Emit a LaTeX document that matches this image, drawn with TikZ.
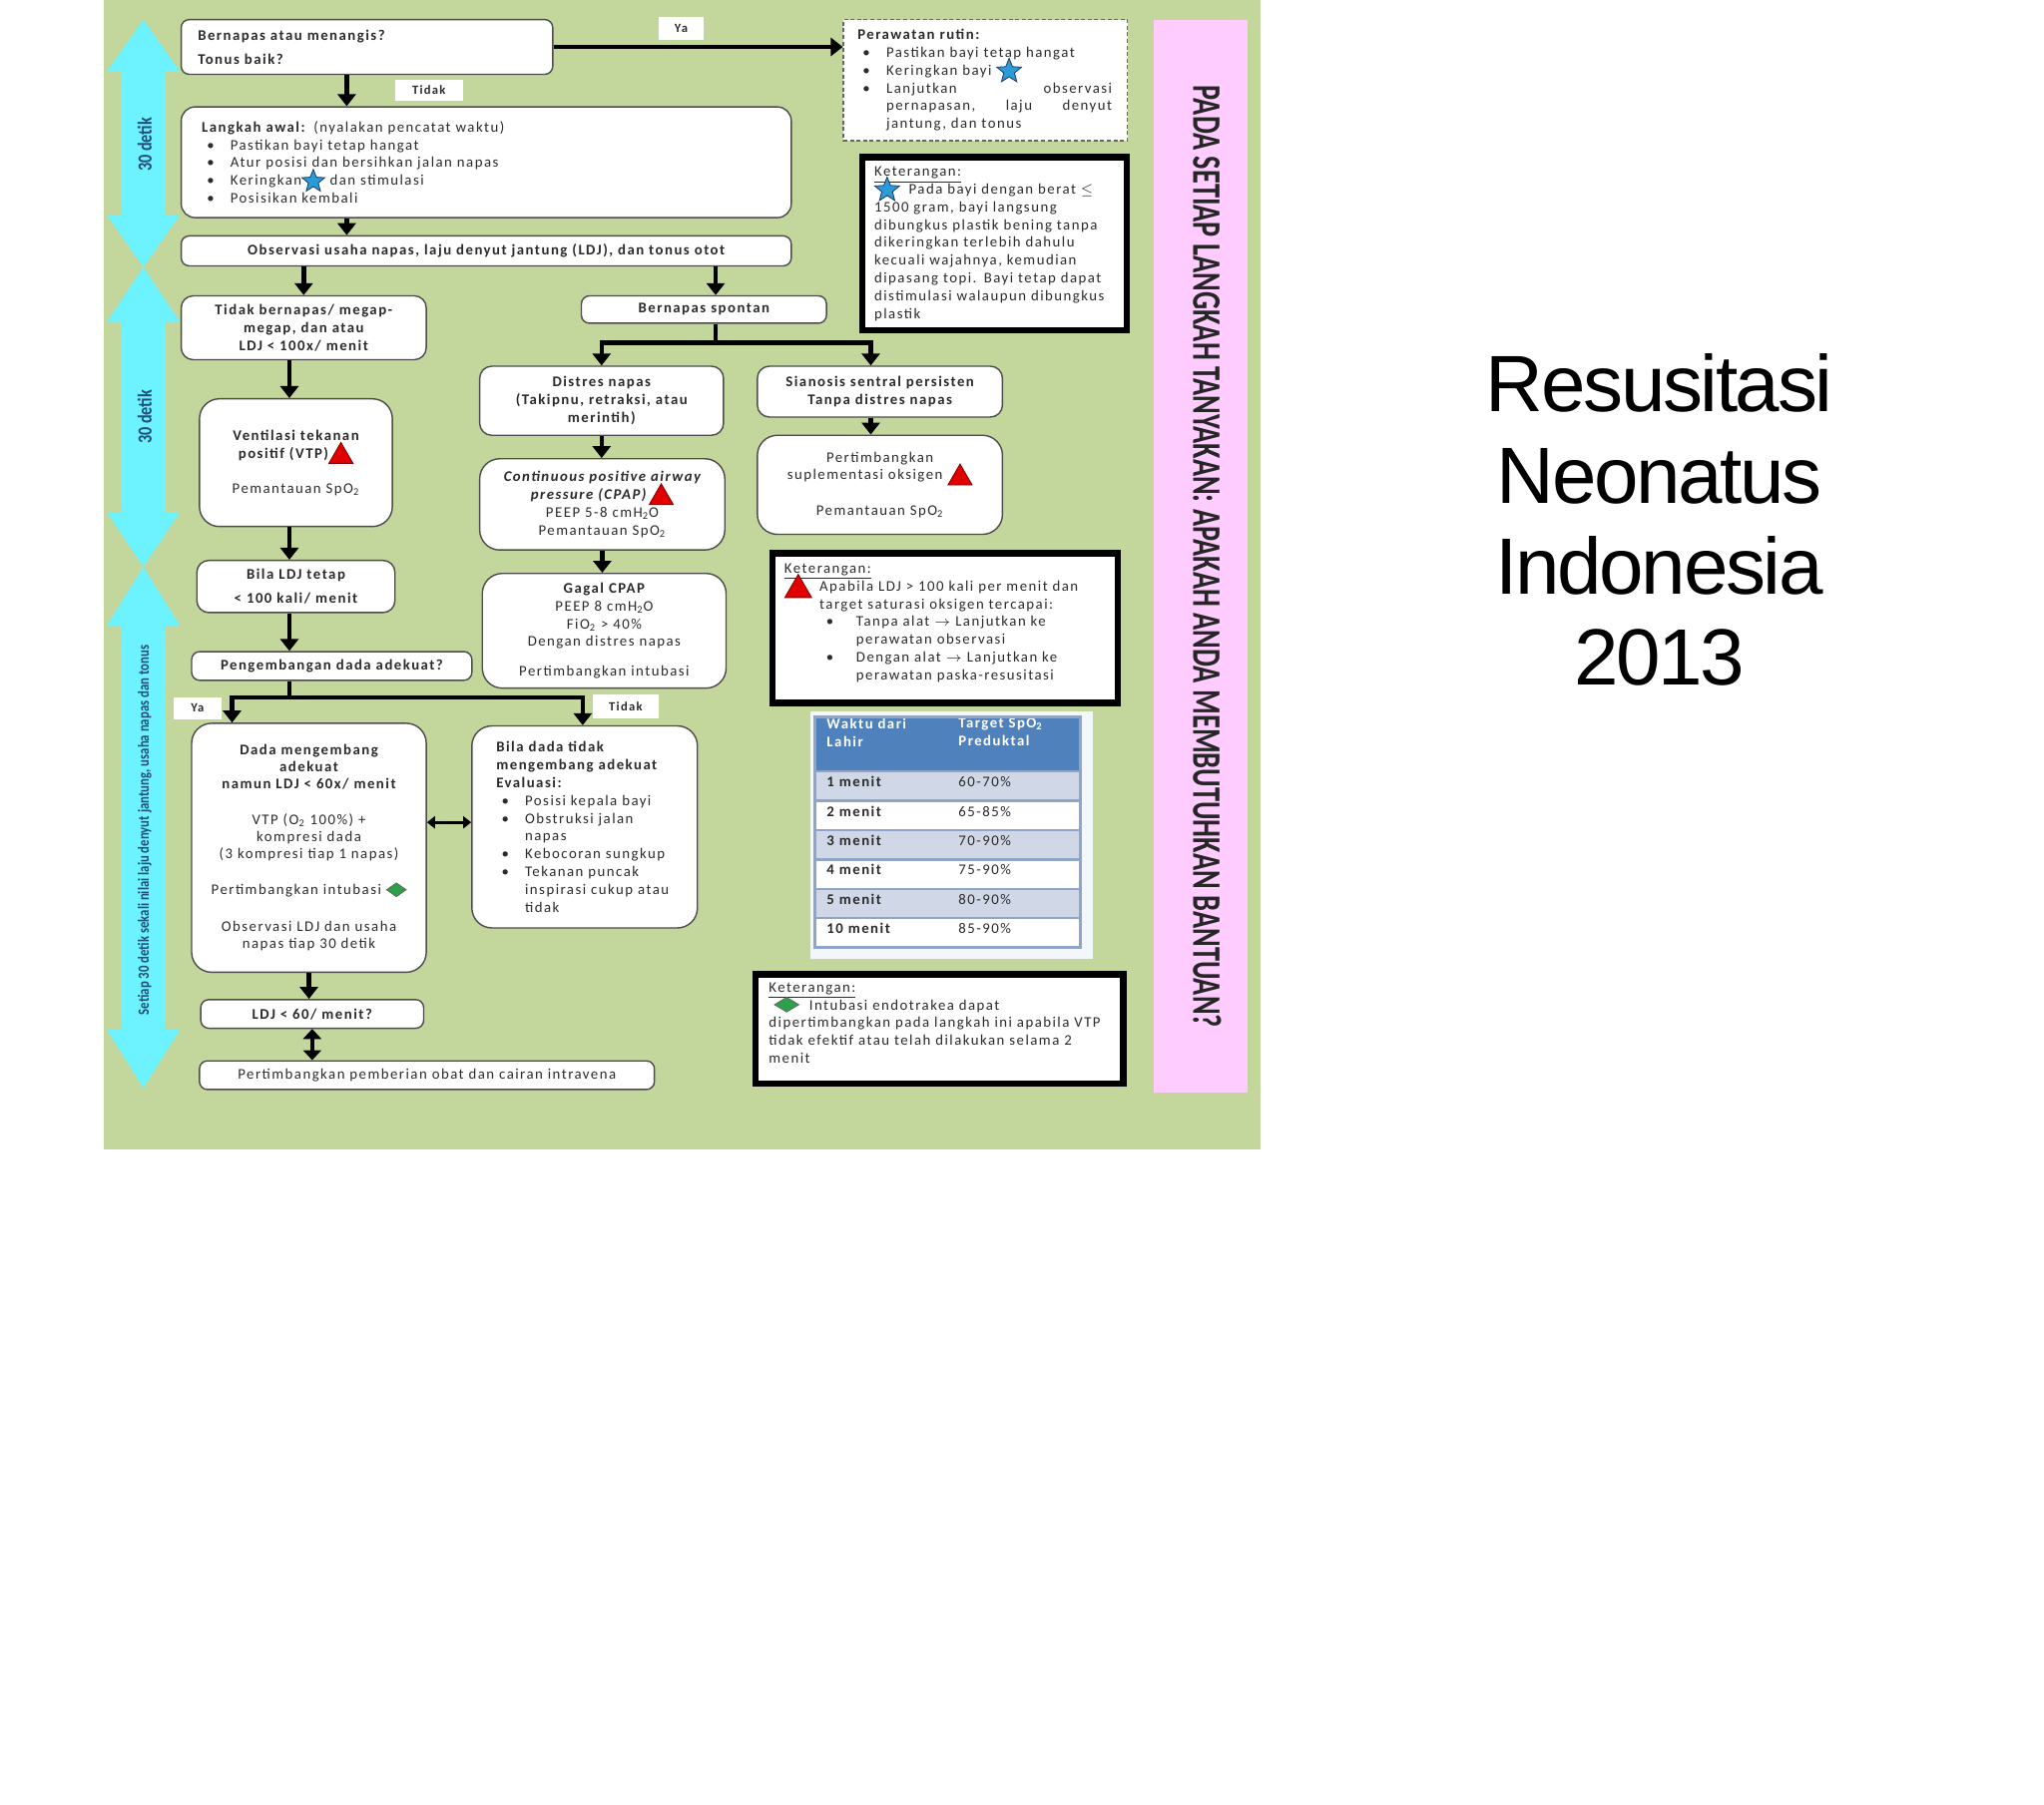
\documentclass[tikz,border=0pt]{standalone}
\usepackage{fontspec}
\usepackage{graphicx}
\setmainfont{Carlito}
\newfontfamily\isi{Carlito}[LetterSpace=10]
\newfontfamily\judul{Liberation Sans}[LetterSpace=-3]
\usetikzlibrary{arrows.meta,shapes.geometric}

\definecolor{hijau}{HTML}{C3D69B}
\definecolor{merahmuda}{HTML}{FFCCFF}
\definecolor{birumuda}{HTML}{6CF3FF}
\definecolor{birutua}{HTML}{4F81BD}
\definecolor{barisbiru}{HTML}{D0D8E8}
\definecolor{garistabel}{HTML}{8EA4C8}
\definecolor{latartabel}{HTML}{F3F6FB}
\definecolor{tulisan}{HTML}{2B2B2B}
\definecolor{labelbiru}{HTML}{1F4E79}
\definecolor{bintangbiru}{HTML}{2A9BD6}
\definecolor{bintanggaris}{HTML}{1F3864}
\definecolor{merah}{HTML}{E00000}
\definecolor{merahtua}{HTML}{7F0000}
\definecolor{hijautua}{HTML}{2EA04C}

\newcommand{\ukurhuruf}{\isi\fontsize{7.4}{8.9}\selectfont}
% simbol kecil di dalam teks
\newcommand{\bintang}[1]{\leavevmode\smash{\tikz[baseline=-2pt]\node[star, star points=5, star point ratio=2.3, fill=bintangbiru, draw=bintanggaris, line width=0.4pt, solid, sharp corners, inner sep=0pt, anchor=center, text width=, minimum size=#1]{};}}
\newcommand{\segitiga}[2]{\leavevmode\smash{\tikz[baseline=#2]\node[regular polygon, regular polygon sides=3, fill=merah, draw=merahtua, line width=0.4pt, solid, sharp corners, inner sep=0pt, anchor=center, text width=, minimum size=#1]{};}}
\newcommand{\belah}[2]{\leavevmode\smash{\tikz[baseline=-2.6pt]\node[diamond, fill=hijautua, draw=black!60, line width=0.4pt, solid, sharp corners, inner sep=0pt, anchor=center, text width=, minimum width=#1, minimum height=#2]{};}}
\newcommand{\butir}[1]{\hspace*{2.6pt}\makebox[11.8pt][l]{\textbullet}{\mdseries #1}}
\newcommand{\lanjut}[1]{\hspace*{14.4pt}{\mdseries #1}}
% panah biru muda berujung dua
\newcommand{\panahbiru}[3]{\fill[birumuda] (110,#1) -- (138,#1+#3) -- (127,#1+#3) -- (127,#2-#3) -- (138,#2-#3) -- (110,#2) -- (82,#2-#3) -- (93,#2-#3) -- (93,#1+#3) -- (82,#1+#3) -- cycle;}

\tikzset{
  ukuran/.style 2 args={minimum width=#1*0.653pt, minimum height=#2*0.653pt, text width=#1*0.653pt},
  kotak/.style={draw=black!70, fill=white, line width=0.7pt, rounded corners=4pt, inner sep=0pt, align=center, text=tulisan, font=\ukurhuruf\bfseries},
  kotakbesar/.style={kotak, rounded corners=10pt},
  teks/.style={inner sep=0pt, anchor=west, align=left, text width=#1, text=tulisan, font=\ukurhuruf},
  ket/.style={draw=black, line width=3.3pt, fill=white, inner sep=0pt},
  rutin/.style={draw=black!60, dash pattern=on 2pt off 1.3pt, line width=0.6pt, fill=white, inner sep=0pt},
  tanda/.style={fill=white, inner sep=0pt, font=\isi\fontsize{6.3}{7}\selectfont\bfseries, text=tulisan},
  panah/.style={line width=2.2pt, -{Triangle[width=9pt,length=6pt]}},
  garis/.style={line width=2.2pt},
  panahdua/.style={line width=2.2pt, {Triangle[width=9pt,length=5pt]}-{Triangle[width=9pt,length=5pt]}},
  panahtipis/.style={line width=1.4pt, {Triangle[width=6pt,length=4pt]}-{Triangle[width=6pt,length=4pt]}},
  waktu/.style={rotate=90, inner sep=0pt, text=labelbiru},
  sel/.style={anchor=west, inner sep=0pt, font=\ukurhuruf, text=tulisan},
}

\begin{document}
\begin{tikzpicture}[x=0.653pt, y=-0.653pt]
\useasboundingbox (0,0) rectangle (1568,1385);
\fill[white] (0,0) rectangle (1568,1385);
% latar bagan
\fill[hijau] (80,0) rectangle (967,882);
\fill[merahmuda] (885,15) rectangle (957,838);

% panah waktu di kiri
\panahbiru{15}{205}{40}
\panahbiru{205}{435}{42}
\panahbiru{435}{835}{45}
\node[waktu] (detik1) at (111,111) {\resizebox{27pt}{7pt}{\bfseries 30 detik}};
\node[waktu] (detik2) at (111,320) {\resizebox{27pt}{7pt}{\bfseries 30 detik}};
\node[waktu] (setiap) at (111,637) {\resizebox{185pt}{5.5pt}{\bfseries Setiap 30 detik sekali nilai laju denyut jantung, usaha napas dan tonus}};

% kolom kiri
\node[kotak, ukuran={285}{42}] (b1) at (281.5,36) {};
\node[teks=200pt] (b1t) at ([xshift=8.5pt]b1.west) {\bfseries Bernapas atau menangis?\\[3pt]Tonus baik?};
\node[kotakbesar, rounded corners=7pt, ukuran={468}{85}] (b2) at (373,124.5) {};
\node[teks=290pt] (b2t) at ([xshift=10.4pt]b2.west) {\textbf{Langkah awal:} (nyalakan pencatat waktu)\\
  \butir{Pastikan bayi tetap hangat}\\
  \butir{Atur posisi dan bersihkan jalan napas}\\
  \butir{Keringkan\bintang{12pt} dan stimulasi}\\
  \butir{Posisikan kembali}};
\node[kotak, ukuran={468}{23}] (b3) at (373,192.5) {Observasi usaha napas, laju denyut jantung (LDJ), dan tonus otot};
\node[kotak, rounded corners=6pt, ukuran={188}{49}] (b4) at (233,251.5) {Tidak bernapas/ megap-\\megap, dan atau\\LDJ < 100x/ menit};
\node[kotak, ukuran={188}{21}] (b5) at (540,237.5) {Bernapas spontan};
\node[kotakbesar, ukuran={148}{98}] (b6) at (227,355) {Ventilasi tekanan\\positif (VTP)\segitiga{14pt}{-0.9pt}\\[8.5pt]{\mdseries Pemantauan SpO\textsubscript{2}}};
\node[kotak, rounded corners=6pt, ukuran={152}{40}] (b7) at (227,450) {Bila LDJ tetap\\[3pt]< 100 kali/ menit};
\node[kotak, ukuran={215}{22}] (b8) at (254.5,511) {Pengembangan dada adekuat?};
\node[kotakbesar, ukuran={180}{191}] (b9) at (237,650.5) {Dada mengembang\\[-0.6pt]adekuat\\[-0.6pt]namun LDJ < 60x/ menit\\[9.5pt]
  \mdseries VTP (O\textsubscript{2} 100\%) +\\[-0.6pt]kompresi dada\\[-0.6pt](3 kompresi tiap 1 napas)\\[9.5pt]
  Pertimbangkan intubasi \belah{10pt}{7pt}\\[9.5pt]
  Observasi LDJ dan usaha\\[-0.6pt]napas tiap 30 detik};
\node[kotakbesar, ukuran={173}{155}] (b10) at (448.5,634.5) {};
\node[teks=120pt] (b10t) at ([xshift=12.4pt]b10.west) {{\bfseries Bila dada tidak\\mengembang adekuat\\Evaluasi:}\\
  \butir{Posisi kepala bayi}\\
  \butir{Obstruksi jalan}\\
  \lanjut{napas}\\
  \butir{Kebocoran sungkup}\\
  \butir{Tekanan puncak}\\
  \lanjut{inspirasi cukup atau}\\
  \lanjut{tidak}};
\node[kotak, ukuran={171}{22}] (b11) at (239.5,778) {LDJ < 60/ menit?};
\node[kotak, ukuran={349}{22}] (b12) at (327.5,825) {\mdseries Pertimbangkan pemberian obat dan cairan intravena};

% kolom tengah
\node[kotak, rounded corners=6pt, ukuran={187}{53}] (b13) at (461.5,307.5) {Distres napas\\(Takipnu, retraksi, atau\\merintih)};
\node[kotakbesar, ukuran={188}{70}] (b14) at (462,387) {{\itshape Continuous positive airway\\pressure (CPAP)}\,\segitiga{14pt}{-0.9pt}\\\mdseries PEEP 5-8 cmH\textsubscript{2}O\\Pemantauan SpO\textsubscript{2}};
\node[kotakbesar, ukuran={187}{88}] (b15) at (463.5,484) {Gagal CPAP\\\mdseries PEEP 8 cmH\textsubscript{2}O\\FiO\textsubscript{2} > 40\%\\Dengan distres napas\\[6pt]Pertimbangkan intubasi};
\node[kotak, rounded corners=6pt, ukuran={188}{39}] (b16) at (675,300.5) {Sianosis sentral persisten\\Tanpa distres napas};
\node[kotakbesar, ukuran={188}{76}] (b17) at (675,372) {\mdseries Pertimbangkan\\suplementasi oksigen \segitiga{14pt}{-0.9pt}\\[9pt]Pemantauan SpO\textsubscript{2}};

% kotak keterangan kanan
\node[rutin, ukuran={218}{93}] (perawatan) at (756,61.5) {};
\node[teks=140pt] (perawatant) at ([xshift=7.2pt]perawatan.west) {\textbf{Perawatan rutin:}\\
  \butir{Pastikan bayi tetap hangat}\\
  \butir{Keringkan bayi \bintang{13pt}}\\
  \butir{\makebox[113pt][s]{Lanjutkan\hfill observasi}}\\
  \lanjut{\makebox[113pt][s]{pernapasan,\hfill laju\hfill denyut}}\\
  \lanjut{jantung, dan tonus}};
\node[ket, ukuran={203}{133}] (ketbintang) at (763,187) {};
\node[teks=140pt] (ketbintangt) at ([xshift=7.5pt]ketbintang.west) {\underline{Keterangan:}\\
  \bintang{13pt}\hspace*{4.5pt}Pada bayi dengan berat $\leq$\\
  1500 gram, bayi langsung\\
  dibungkus plastik bening tanpa\\
  dikeringkan terlebih dahulu\\
  kecuali wajahnya, kemudian\\
  dipasang topi. Bayi tetap dapat\\
  distimulasi walaupun dibungkus\\
  plastik};
\node[ket, ukuran={265}{115}] (ketsegitiga) at (725,482) {};
\node[teks=180pt] (ketsegitigat) at ([xshift=7.5pt, yshift=2.6pt]ketsegitiga.west) {\underline{Keterangan:}\\
  \leavevmode\rlap{\segitiga{15.5pt}{-0.6pt}}\hspace*{17.6pt}Apabila LDJ > 100 kali per menit dan\\
  \hspace*{17.6pt}target saturasi oksigen tercapai:\\
  \hspace*{21pt}\makebox[15pt][l]{\textbullet}Tanpa alat $\rightarrow$ Lanjutkan ke\\
  \hspace*{36pt}perawatan observasi\\
  \hspace*{21pt}\makebox[15pt][l]{\textbullet}Dengan alat $\rightarrow$ Lanjutkan ke\\
  \hspace*{36pt}perawatan paska-resusitasi};
\node[ket, ukuran={282}{84}] (ketbelah) at (720.5,789.5) {};
\node[teks=190pt] (ketbelaht) at ([xshift=8.2pt, yshift=3pt]ketbelah.west) {\underline{Keterangan:}\\
  \hspace*{2.6pt}\belah{12.4pt}{7.5pt}\hspace*{5pt}Intubasi endotrakea dapat\\
  dipertimbangkan pada langkah ini apabila VTP\\
  tidak efektif atau telah dilakukan selama 2\\
  menit};

% tabel target SpO2
\fill[latartabel] (622,546) rectangle (838,736);
\fill[birutua] (625,550) rectangle (829,592);
\node[sel, anchor=north west, align=left, text=white, font=\ukurhuruf\bfseries] (kepala1) at (634,551) {Waktu dari\\Lahir};
\node[sel, anchor=north west, align=left, text=white, font=\ukurhuruf\bfseries] (kepala2) at (735,551) {Target SpO\textsubscript{2}\\Preduktal};
\foreach \i/\waktu/\nilai/\warna in {0/1 menit/60-70\%/barisbiru, 1/2 menit/65-85\%/white, 2/3 menit/70-90\%/barisbiru, 3/4 menit/75-90\%/white, 4/5 menit/80-90\%/barisbiru, 5/10 menit/85-90\%/white}{
  \draw[garistabel, line width=1.2pt, fill=\warna] (625,592+22.5*\i) rectangle (829,614.5+22.5*\i);
  \node[sel, font=\ukurhuruf\bfseries] (waktu\i) at (634,600+22.5*\i) {\waktu};
  \node[sel] (nilai\i) at (735,600+22.5*\i) {\nilai};
}
\draw[garistabel, line width=1.5pt] (625,550) rectangle (829,727);

% label ya / tidak
\node[tanda, ukuran={35}{18}, align=center] (ya1) at (522.5,22) {Ya};
\node[tanda, ukuran={52}{16}, align=center] (tidak1) at (329,69) {Tidak};
\node[tanda, ukuran={37}{17}, align=center] (ya2) at (151.5,543.5) {Ya};
\node[tanda, ukuran={50}{18}, align=center] (tidak2) at (480,542) {Tidak};

% titik bantu penghubung
\coordinate (xa) at (266,0);
\coordinate (xb) at (549,0);
\coordinate (xc) at (222,0);
\coordinate (xd) at (178,0);
\coordinate (xe) at (447,0);
\coordinate (xs) at (668,0);
\coordinate (yf) at (0,631);
\coordinate (cabang1) at (549,263);
\coordinate (cabang2) at (222,535);

% penghubung
\draw[panah] (b1.east) -- (b1.east -| perawatan.west);
\draw[panah] (b1.south -| xa) -- (b2.north -| xa);
\draw[panah] (b2.south -| xa) -- (b3.north -| xa);
\draw[panah] (b3.south -| b4.north) -- (b4.north);
\draw[panah] (b3.south -| xb) -- (b5.north -| xb);
\draw[panah] (b4.south -| xc) -- (b6.north -| xc);
\draw[panah] (b6.south -| xc) -- (b7.north -| xc);
\draw[panah] (b7.south -| xc) -- (b8.north -| xc);
\draw[garis] (b5.south -| xb) -- (cabang1);
\draw[panah] (cabang1) -| (b13.north);
\draw[panah] (cabang1) -| (b16.north -| xs);
\draw[panah] (b13.south) -- (b14.north -| b13.south);
\draw[panah] (b14.south) -- (b15.north -| b14.south);
\draw[panah] (b16.south -| xs) -- (b17.north -| xs);
\draw[garis] (b8.south -| xc) -- (cabang2);
\draw[panah] (cabang2) -| (b9.north -| xd);
\draw[panah] (cabang2) -| (b10.north -| xe);
\draw[panahtipis] (b9.east |- yf) -- (b10.west |- yf);
\draw[panah] (b9.south) -- (b11.north -| b9.south);
\draw[panahdua] (b11.south) -- (b12.north -| b11.south);

% tulisan tegak di pita merah muda
\node[rotate=-90, inner sep=0pt, text=black!85] (tanya) at (926,427) {\resizebox{472pt}{14pt}{\bfseries PADA SETIAP LANGKAH TANYAKAN: APAKAH ANDA MEMBUTUHKAN BANTUAN?}};

% judul
\node[font=\judul\fontsize{40}{45.7}\selectfont, align=center, inner sep=0pt] (judul) at (1273,399) {Resusitasi\\Neonatus\\Indonesia\\2013};
\end{tikzpicture}
\end{document}
